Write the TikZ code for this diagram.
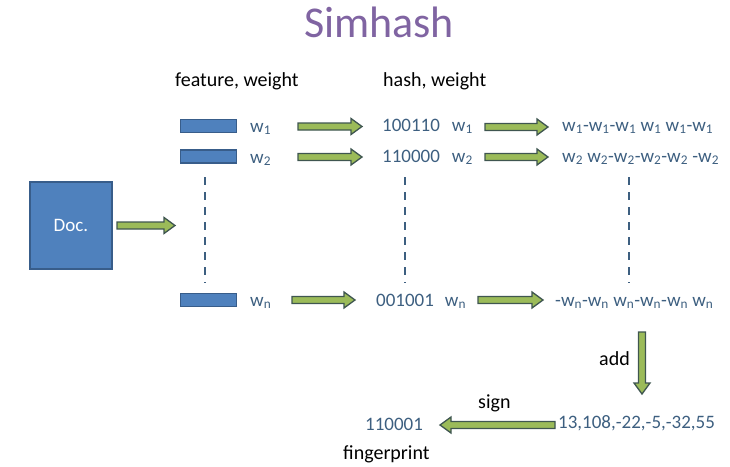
\documentclass[tikz,border=0pt]{standalone}
\usepackage{fontspec}
\setmainfont{Carlito}
\usetikzlibrary{calc}
\definecolor{titlepurple}{HTML}{8064A2}
\definecolor{boxfill}{HTML}{4F81BD}
\definecolor{boxline}{HTML}{385D8A}
\definecolor{arrowfill}{HTML}{9BBB59}
\definecolor{arrowline}{HTML}{3F5650}
\definecolor{txtblue}{HTML}{3D5F80}
\tikzset{
  lbl/.style={inner sep=0pt, anchor=base west, font=\fontsize{20}{24}\selectfont, text=black},
  wlbl/.style={inner sep=0pt, anchor=base west, font=\fontsize{19}{22}\selectfont, text=txtblue},
  feat/.style={draw=boxline, fill=boxfill, line width=1.2pt, minimum width=56pt, minimum height=13pt, inner sep=0pt},
  dashline/.style={draw=txtblue, line width=2.2pt, dash pattern=on 8pt off 7pt},
  barrow/.style={draw=arrowline, fill=arrowfill, line width=1.3pt, line join=miter,
    to path={let \p1=(\tikztostart), \p2=(\tikztotarget), \p3=($(\p2)!11pt!(\p1)$) in
      ($(\p1)!3.5pt!90:(\p2)$) -- ($(\p3)!3.5pt!-90:(\p1)$) -- ($(\p3)!8pt!-90:(\p1)$) -- (\p2)
      -- ($(\p3)!8pt!90:(\p1)$) -- ($(\p3)!3.5pt!90:(\p1)$) -- ($(\p1)!3.5pt!-90:(\p2)$) -- cycle}}
}
\newcommand\wsub[1]{w\textsubscript{#1}}
\begin{document}
\begin{tikzpicture}[x=1pt,y=-1pt]
\useasboundingbox (0,0) rectangle (730,466);
% title and headers
\node[inner sep=0pt, anchor=base, font=\fontsize{44}{50}\selectfont, text=titlepurple] (title) at (379,37) {Simhash};
\node[lbl] (hfeat) at (175,86) {feature, weight};
\node[lbl] (hhash) at (383,86) {hash, weight};
% doc
\node[draw=boxline, fill=boxfill, line width=1.5pt, minimum width=82pt, minimum height=87pt, inner sep=0pt,
      text=white, font=\fontsize{19}{22}\selectfont] (doc) at (71,225.5) {Doc.};
% feature bars
\node[feat] (f1) at (208.5,126) {};
\node[feat] (f2) at (208.5,156.5) {};
\node[feat] (fn) at (208.5,300) {};
\node[wlbl] (w1) at (250,132) {\wsub{1}};
\node[wlbl] (w2) at (250,163) {\wsub{2}};
\node[wlbl] (wn) at (250,306) {\wsub{n}};
% hashes
\node[wlbl] (h1) at (382,131) {100110\hspace{12pt}\wsub{1}};
\node[wlbl] (h2) at (382,162) {110000\hspace{12pt}\wsub{2}};
\node[wlbl] (hn) at (376,306) {001001\hspace{11pt}\wsub{n}};
% weighted vectors
\node[wlbl] (v1) at (562,131) {\wsub{1}-\wsub{1}-\wsub{1} \wsub{1} \wsub{1}-\wsub{1}};
\node[wlbl] (v2) at (562,162) {\wsub{2} \wsub{2}-\wsub{2}-\wsub{2}-\wsub{2} -\wsub{2}};
\node[wlbl] (vn) at (555,306) {-\wsub{n}-\wsub{n} \wsub{n}-\wsub{n}-\wsub{n} \wsub{n}};
% sum and fingerprint
\node[wlbl] (sum) at (558,428) {13,108,-22,-5,-32,55};
\node[wlbl] (fp) at (365,430) {110001};
\node[lbl] (fplbl) at (343,459) {fingerprint};
\node[lbl] (add) at (599,365) {add};
\node[lbl] (sign) at (478,408) {sign};
% dashed lines
\coordinate (d1a) at (205,177); \coordinate (d1b) at (205,283);
\coordinate (d2a) at (405,177); \coordinate (d2b) at (405,283);
\coordinate (d3a) at (629,177); \coordinate (d3b) at (629,283);
\draw[dashline] (d1a) -- (d1b);
\draw[dashline] (d2a) -- (d2b);
\draw[dashline] (d3a) -- (d3b);
% arrows
\coordinate (ad0s) at (117,225.5); \coordinate (ad0t) at (175,225.5);
\coordinate (a1s) at (298,126.5); \coordinate (a1t) at (362,126.5);
\coordinate (a2s) at (298,157); \coordinate (a2t) at (362,157);
\coordinate (ans) at (292,300); \coordinate (ant) at (355,300);
\coordinate (b1s) at (485,127); \coordinate (b1t) at (548,127);
\coordinate (b2s) at (485,157); \coordinate (b2t) at (548,157);
\coordinate (bns) at (478,300); \coordinate (bnt) at (543,300);
\coordinate (cs) at (642,332); \coordinate (ct) at (642,394);
\coordinate (ds) at (555,425); \coordinate (dt) at (440,425);
\draw[barrow] (ad0s) to (ad0t);
\draw[barrow] (a1s) to (a1t);
\draw[barrow] (a2s) to (a2t);
\draw[barrow] (ans) to (ant);
\draw[barrow] (b1s) to (b1t);
\draw[barrow] (b2s) to (b2t);
\draw[barrow] (bns) to (bnt);
\draw[barrow] (cs) to (ct);
\draw[barrow] (ds) to (dt);
\end{tikzpicture}
\end{document}
